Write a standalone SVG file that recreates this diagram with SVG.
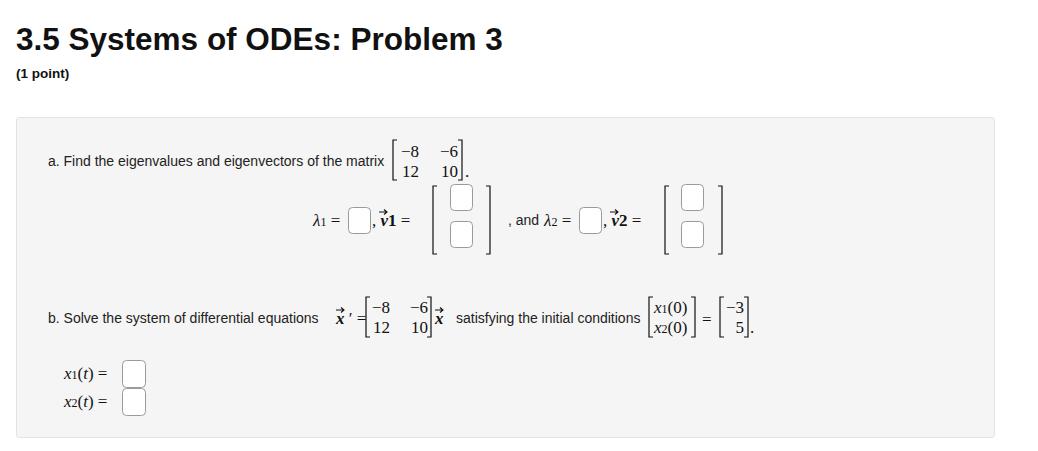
<svg xmlns="http://www.w3.org/2000/svg" width="1038" height="451" viewBox="0 0 1038 451">
<style>
.s{font-family:"Liberation Sans",Arial,sans-serif;font-size:14px;fill:#222}
.m{font-family:"Liberation Serif","Times New Roman",serif;font-size:17px;fill:#111}
.i{font-style:italic}
.bv{font-style:italic;font-weight:bold}
.ar{fill:none;stroke:#111;stroke-width:1.1}
.b{fill:#fff;stroke:#9a9a9a;stroke-width:1}
.k{fill:none;stroke:#111;stroke-width:1.2}
</style>
<defs><path id="vec" d="M0,0h8M5,-2.5l3,2.5l-3,2.5"/></defs>
<rect width="1038" height="451" fill="#fff"/>
<text x="16" y="50" font-family="Liberation Sans,Arial,sans-serif" font-weight="bold" font-size="31.5" fill="#111">3.5 Systems of ODEs: Problem 3</text>
<text x="16" y="78" font-family="Liberation Sans,Arial,sans-serif" font-weight="bold" font-size="13.5" fill="#111">(1 point)</text>
<rect x="16.5" y="117.5" width="978" height="320" rx="3" fill="#f5f5f5" stroke="#e2e2e2"/>
<text class="s" x="48" y="166">a. Find the eigenvalues and eigenvectors of the matrix</text>
<path class="k" d="M397,140h-4v40h4M458,140h4v40h-4"/>
<text class="m" text-anchor="end" x="419" y="157">−8</text><text class="m" text-anchor="end" x="458" y="157">−6</text>
<text class="m" text-anchor="end" x="419" y="177">12</text><text class="m" text-anchor="end" x="458" y="177">10</text>
<text class="m" x="465" y="177">.</text>
<text class="m" x="313" y="226"><tspan class="i">λ</tspan><tspan font-size="12">1</tspan> =</text>
<rect class="b" x="348.5" y="207.5" width="22" height="26" rx="4"/>
<text class="m" x="372" y="226">, <tspan class="bv">v</tspan><tspan font-weight="bold">1</tspan> =</text>
<use href="#vec" class="ar" x="379" y="212"/>
<path class="k" d="M437,186h-4v68h4M486,186h4v68h-4"/>
<rect class="b" x="450.5" y="184.5" width="22" height="26" rx="4"/>
<rect class="b" x="450.5" y="221.5" width="22" height="26" rx="4"/>
<text class="s" x="508" y="225">, and</text>
<text class="m" x="544" y="226"><tspan class="i">λ</tspan><tspan font-size="12">2</tspan> =</text>
<rect class="b" x="579.5" y="207.5" width="22" height="26" rx="4"/>
<text class="m" x="603" y="226">, <tspan class="bv">v</tspan><tspan font-weight="bold">2</tspan> =</text>
<use href="#vec" class="ar" x="610" y="212"/>
<path class="k" d="M669,186h-4v68h4M718,186h4v68h-4"/>
<rect class="b" x="681.5" y="184.5" width="22" height="26" rx="4"/>
<rect class="b" x="681.5" y="221.5" width="22" height="26" rx="4"/>
<text class="s" x="48" y="323">b. Solve the system of differential equations</text>
<text class="m" x="336" y="324"><tspan class="bv">x</tspan> ′ =</text>
<use href="#vec" class="ar" x="336" y="310"/>
<path class="k" d="M370,297h-4v40h4M427,297h4v40h-4"/>
<text class="m" text-anchor="end" x="390" y="313">−8</text><text class="m" text-anchor="end" x="428" y="313">−6</text>
<text class="m" text-anchor="end" x="390" y="333">12</text><text class="m" text-anchor="end" x="428" y="333">10</text>
<text class="m bv" x="435" y="324">x</text>
<use href="#vec" class="ar" x="435" y="310"/>
<text class="s" x="456" y="323">satisfying the initial conditions</text>
<path class="k" d="M653,297h-4v40h4M691,297h4v40h-4"/>
<text class="m" x="654" y="313"><tspan class="i">x</tspan><tspan font-size="12">1</tspan>(0)</text>
<text class="m" x="654" y="333"><tspan class="i">x</tspan><tspan font-size="12">2</tspan>(0)</text>
<text class="m" x="702" y="325">=</text>
<path class="k" d="M724,297h-4v40h4M744,297h4v40h-4"/>
<text class="m" text-anchor="end" x="744" y="313">−3</text>
<text class="m" text-anchor="end" x="744" y="333">5</text>
<text class="m" x="750" y="333">.</text>
<text class="m" x="64" y="379"><tspan class="i">x</tspan><tspan font-size="12">1</tspan>(<tspan class="i">t</tspan>) =</text>
<rect class="b" x="122.5" y="360.5" width="23" height="27" rx="4"/>
<text class="m" x="64" y="407"><tspan class="i">x</tspan><tspan font-size="12">2</tspan>(<tspan class="i">t</tspan>) =</text>
<rect class="b" x="122.5" y="388.5" width="23" height="27" rx="4"/>
</svg>
